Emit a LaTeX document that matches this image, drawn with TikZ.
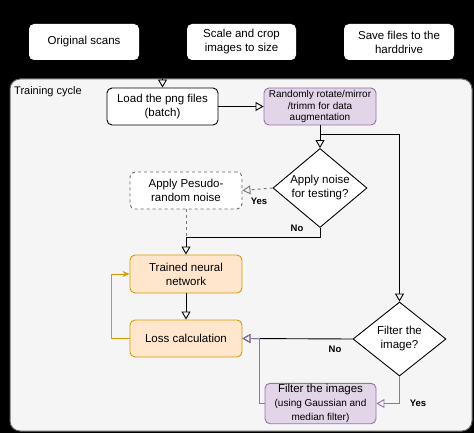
\documentclass[tikz,border=0pt]{standalone}
\usepackage{fontspec}
\setmainfont{Liberation Sans}
\usetikzlibrary{arrows.meta,shapes.geometric,calc}
\definecolor{cfill}{HTML}{F5F5F5}
\definecolor{cborder}{HTML}{666666}
\definecolor{pfill}{HTML}{E1D5E7}
\definecolor{pborder}{HTML}{9673A6}
\definecolor{ofill}{HTML}{FFE6CC}
\definecolor{oborder}{HTML}{D79B00}
\definecolor{dgray}{HTML}{777777}
\tikzset{
  x=1pt,y=-1pt,
  basebox/.style={rectangle,rounded corners=5pt,align=center,inner sep=1pt,font=\fontsize{11.5}{14}\selectfont,line width=0.9pt},
  topbox/.style={basebox,fill=white,draw=none,minimum width=110pt,minimum height=36pt},
  plainbox/.style={basebox,fill=white,draw=black,minimum width=111pt,minimum height=37pt},
  purplebox/.style={basebox,fill=pfill,draw=pborder,minimum width=112pt,minimum height=37pt},
  orangebox/.style={basebox,fill=ofill,draw=oborder,minimum width=112pt,minimum height=37pt},
  dashbox/.style={basebox,fill=white,draw=cborder,dashed,minimum width=112pt,minimum height=37pt},
  decision/.style={diamond,draw=black,fill=white,inner sep=0pt,line width=0.9pt},
  dtext/.style={align=center,font=\fontsize{11.5}{14}\selectfont},
  elabel/.style={font=\fontsize{9.5}{11}\selectfont\bfseries},
  conn/.style={draw=black,line width=0.9pt,-{Triangle[open,length=8pt,width=9pt]}},
  plainline/.style={draw=black,line width=0.9pt},
}
\begin{document}
\begin{tikzpicture}
\useasboundingbox (0,0) rectangle (474,433);
\fill[black] (0,0) rectangle (474,433);
% container
\draw[fill=cfill,draw=cborder,line width=1pt,rounded corners=10pt] (10,79) rectangle (472,431);
\node[anchor=west,font=\fontsize{11}{13}\selectfont,inner sep=0pt] (title) at (14,92) {Training cycle};

% top row
\node[topbox] (orig) at (84,42) {Original scans};
\node[topbox,minimum width=109pt] (scale) at (241.5,42) {Scale and crop\\images to size};
\node[topbox] (save) at (399,42) {Save files to the\\harddrive};

% nodes
\node[plainbox] (load) at (162.5,106.5) {Load the png files\\(batch)};
\node[purplebox,font=\fontsize{10}{11.7}\selectfont] (aug) at (320,106.5) {Randomly rotate/mirror\\/trimm for data\\augmentation};
\node[decision,minimum width=94pt,minimum height=79pt] (noise) at (320,188) {};
\node[dtext] at (noise) {Apply noise\\for testing?};
\node[dashbox] (pseudo) at (186,190.5) {Apply Pesudo-\\random noise};
\node[orangebox,minimum height=38pt] (trained) at (186,274) {Trained neural\\network};
\node[orangebox] (loss) at (186,338.5) {Loss calculation};
\node[decision,minimum width=93pt,minimum height=74pt] (filt) at (399.5,339) {};
\node[dtext] at (filt) {Filter the\\image?};
\node[purplebox,minimum width=111pt] (fimg) at (320.5,403.5) {Filter the images\\{\fontsize{10}{12}\selectfont (using Gaussian and}\\{\fontsize{10}{12}\selectfont median filter)}};

% connectors
\coordinate (entry) at (162.5,79);
\draw[conn] (entry) -- (load.north);
\draw[conn] (load.east) -- (aug.west);
\draw[conn] (aug.south) -- (noise.north);
\draw[conn] (aug.south) -- ++(0,9) -| (filt.north);
\draw[conn,draw=dgray,dashed] (noise.west) -- (pseudo.east);
\node[elabel] (yes1) at (259,201) {Yes};
\coordinate (merge) at (186,237);
\draw[plainline,draw=dgray,dashed] (pseudo.south) -- (merge);
\draw[conn] (noise.south) |- (merge) -- (trained.north);
\node[elabel] (no1) at (297,228) {No};
\draw[conn] (trained.south) -- (loss.north);
\draw[draw=oborder,line width=0.9pt,-{Stealth[length=7pt,width=6pt]}] (loss.west) -- ++(-18,0) |- (trained.west);
\draw[conn] (filt.west) -- (loss.east);
\node[elabel] (no2) at (335,349) {No};
\draw[conn,draw=pborder] (filt.south) |- (fimg.east);
\node[elabel] (yes2) at (418,403) {Yes};
\draw[conn,draw=pborder] (fimg.west) -- ++(-5,0) |- (loss.east);
\end{tikzpicture}
\end{document}
